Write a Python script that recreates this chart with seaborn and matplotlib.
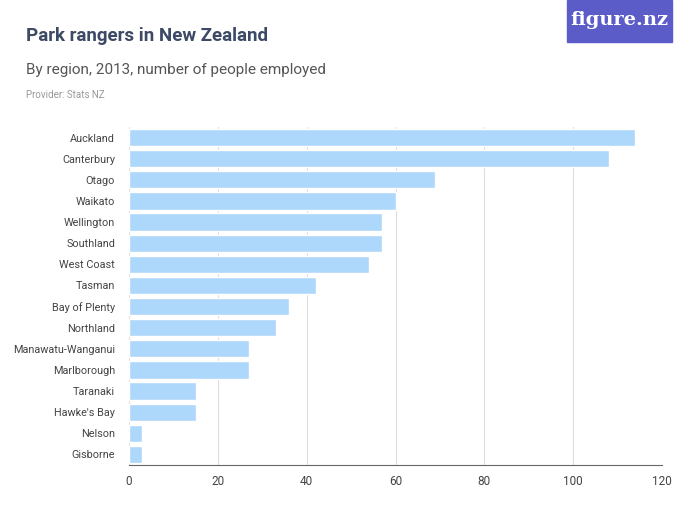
import matplotlib
matplotlib.use("Agg")
import matplotlib.pyplot as plt
import seaborn as sns
import pandas as pd
from matplotlib.patches import Rectangle

regions = ["Auckland","Canterbury","Otago","Waikato","Wellington","Southland","West Coast",
           "Tasman","Bay of Plenty","Northland","Manawatu-Wanganui","Marlborough",
           "Taranaki","Hawke's Bay","Nelson","Gisborne"]
employed = [114,108,69,60,57,57,54,42,36,33,27,27,15,15,3,3]
xticks = [0,20,40,60,80,100,120]

sns.set_style("white")
plt.rcParams['font.family'] = ['Roboto', 'DejaVu Sans']
df = pd.DataFrame({"region": regions, "value": employed})

fig = plt.figure(figsize=(7,5.25), dpi=100)
ax = fig.add_axes([129/700, 1-465/525, (662-129)/700, (465-127)/525])
sns.barplot(data=df, x="value", y="region", color="#add8fc", saturation=1, width=0.82, ax=ax)
ax.set_xlim(0,120)
ax.set_xticks(xticks)
ax.set_xlabel(""); ax.set_ylabel("")
ax.grid(axis="x", color="#dddddd", lw=0.8)
ax.set_axisbelow(True)
for s in ["top","right","left"]:
    ax.spines[s].set_visible(False)
ax.spines["bottom"].set_color("#666666")
ax.tick_params(axis="x", colors="#444444", labelsize=8.5, length=4, color="#666666")
ax.tick_params(axis="y", colors="#444444", labelsize=7.8, length=0, pad=10)

fig.text(26/700, 1-36/525, "Park rangers in New Zealand", fontsize=13.5, color="#3c4a66", weight="bold", va="center")
fig.text(26/700, 1-70/525, "By region, 2013, number of people employed", fontsize=11, color="#555555", va="center")
fig.text(26/700, 1-95/525, "Provider: Stats NZ", fontsize=7, color="#999999", va="center")
fig.patches.append(Rectangle((567/700, 1-42/525), 105/700, 42/525, transform=fig.transFigure, color="#5b5cc8"))
fig.text(619/700, 1-20/525, "figure.nz", fontsize=14, color="white", weight="bold", ha="center", va="center", family="DejaVu Serif")
fig.savefig("out.png", dpi=100)
